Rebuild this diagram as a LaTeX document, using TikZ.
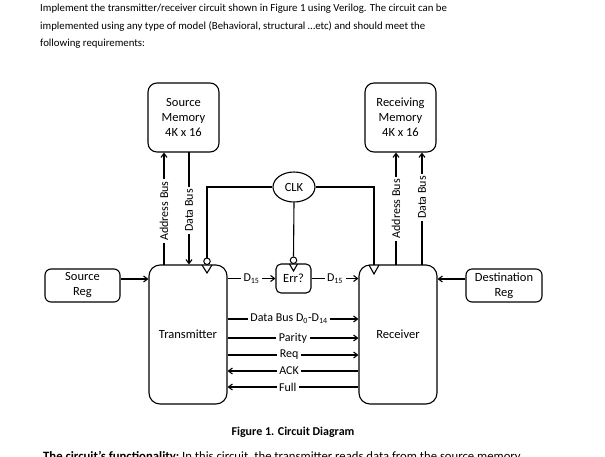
\documentclass[tikz,border=0pt]{standalone}
\usepackage{fontspec}
\setmainfont{Carlito}
\usetikzlibrary{shapes.geometric,arrows.meta}
\tikzset{
    block/.style={
        draw,
        line width=1.1pt,
        rounded corners=9pt,
        align=center,
        font=\fontsize{12.5}{15}\selectfont,
    },
    sig/.style={
        line width=1.1pt,
    },
    tip/.style={
        sig,
        -{Straight Barb[length=4pt,width=6pt]},
    },
    tag/.style={
        fill=white,
        inner sep=2.5pt,
        font=\fontsize{12}{14}\selectfont,
    },
    bubble/.style={
        draw,
        circle,
        fill=white,
        line width=1pt,
        inner sep=0,
        minimum size=6.5pt,
    },
}

\begin{document}
\begin{tikzpicture}[x=1pt, y=-1pt]
            \useasboundingbox (0,0) rectangle (605,456);
            \clip (0,0) rectangle (605,456);

            % page text
            \node[anchor=north west, align=left, inner sep=0,
                  font=\fontsize{10.8}{17.5}\selectfont] at (40,4) (intro)
                {Implement the transmitter/receiver circuit shown in Figure 1 using Verilog. The circuit can be\\
                 implemented using any type of model (Behavioral, structural \ldots etc) and should meet the\\
                 following requirements:};
            \node[font=\fontsize{12}{14}\selectfont\bfseries] at (293,432) (caption)
                {Figure 1. Circuit Diagram};
            \node[anchor=north west, inner sep=0, font=\fontsize{12.7}{13}\selectfont] at (43,451) (outro)
                {\underline{\textbf{The circuit's functionality:}} In this circuit, the transmitter reads data from the source memory};

            % blocks
            \node[block, minimum width=71pt, minimum height=69pt] at (183.5,117.5) (srcmem)
                {Source\\Memory\\4K x 16};
            \node[block, minimum width=71pt, minimum height=69pt] at (400.5,117.5) (rcvmem)
                {Receiving\\Memory\\4K x 16};
            \node[block, rounded corners=11pt, minimum width=78pt, minimum height=139pt] at (188,334.5) (tx)
                {Transmitter};
            \node[block, rounded corners=11pt, minimum width=78pt, minimum height=139pt] at (398,334.5) (rx)
                {Receiver};
            \node[block, rounded corners=6pt, minimum width=75pt, minimum height=33pt] at (82.5,285.5) (srcreg)
                {Source\\Reg};
            \node[block, rounded corners=6pt, minimum width=76pt, minimum height=33pt] at (504,285.5) (dstreg)
                {Destination\\Reg};
            \node[block, rounded corners=5pt, minimum width=35pt, minimum height=29pt, inner sep=1pt] at (293.5,278.5) (err)
                {Err?};
            \node[draw, ellipse, line width=1.1pt, minimum width=42pt, minimum height=30pt, inner sep=1pt,
                  font=\fontsize{12.5}{14}\selectfont] at (294,187) (clk)
                {CLK};

            % clock inputs
            \coordinate (txclk) at (207,265);
            \coordinate (rxclk) at (374,265);
            \coordinate (errclk) at (293.5,264);
            \node[bubble, anchor=south] at (txclk) (txbub) {};
            \node[bubble, anchor=south] at (errclk) (errbub) {};
            \draw[sig] (txclk) ++(-5,0) -- ++(5,8) -- ++(5,-8);
            \draw[sig] (rxclk) ++(-5,0) -- ++(5,9) -- ++(5,-9);
            \draw[sig] (errclk) ++(-4,0) -- ++(4,7) -- ++(4,-7);
            \draw[sig] (clk.west) -| (txbub.north);
            \draw[sig] (clk.south) -- (errbub.north);
            \draw[sig] (clk.east) -| (rxclk);

            % memory buses
            \coordinate (txaddr) at (164,265);
            \coordinate (txdata) at (189,152);
            \coordinate (rxaddr) at (396,265);
            \coordinate (rxdata) at (422,265);
            \draw[tip] (txaddr) -- (txaddr |- srcmem.south)
                node[tag, rotate=90, pos=0.48] {Address Bus};
            \draw[tip] (txdata) -- (txdata |- tx.north)
                node[tag, rotate=90, pos=0.52] {Data Bus};
            \draw[tip] (rxaddr) -- (rxaddr |- rcvmem.south)
                node[tag, rotate=90, pos=0.5] {Address Bus};
            \draw[tip] (rxdata) -- (rxdata |- rcvmem.south)
                node[tag, rotate=90, pos=0.6] {Data Bus};

            % registers
            \draw[tip] (srcreg.east |- 0,279) -- (tx.west |- 0,279);
            \draw[tip] (dstreg.west |- 0,279) -- (rx.east |- 0,279);

            % transmitter to receiver
            \draw[tip] (tx.east |- err.west) -- (err.west)
                node[tag, midway] {D\textsubscript{15}};
            \draw[tip] (err.east) -- (rx.west |- err.east)
                node[tag, midway] {D\textsubscript{15}};
            \draw[tip] (tx.east |- 0,319) -- (rx.west |- 0,319)
                node[tag, pos=0.47] {Data Bus D\textsubscript{0}-D\textsubscript{14}};
            \draw[tip] (tx.east |- 0,338) -- (rx.west |- 0,338)
                node[tag, pos=0.5] {Parity};
            \draw[tip] (tx.east |- 0,355) -- (rx.west |- 0,355)
                node[tag, pos=0.47] {Req};
            \draw[tip] (rx.west |- 0,371) -- (tx.east |- 0,371)
                node[tag, pos=0.53] {ACK};
            \draw[tip] (rx.west |- 0,387) -- (tx.east |- 0,387)
                node[tag, pos=0.54] {Full};
\end{tikzpicture}
\end{document}
